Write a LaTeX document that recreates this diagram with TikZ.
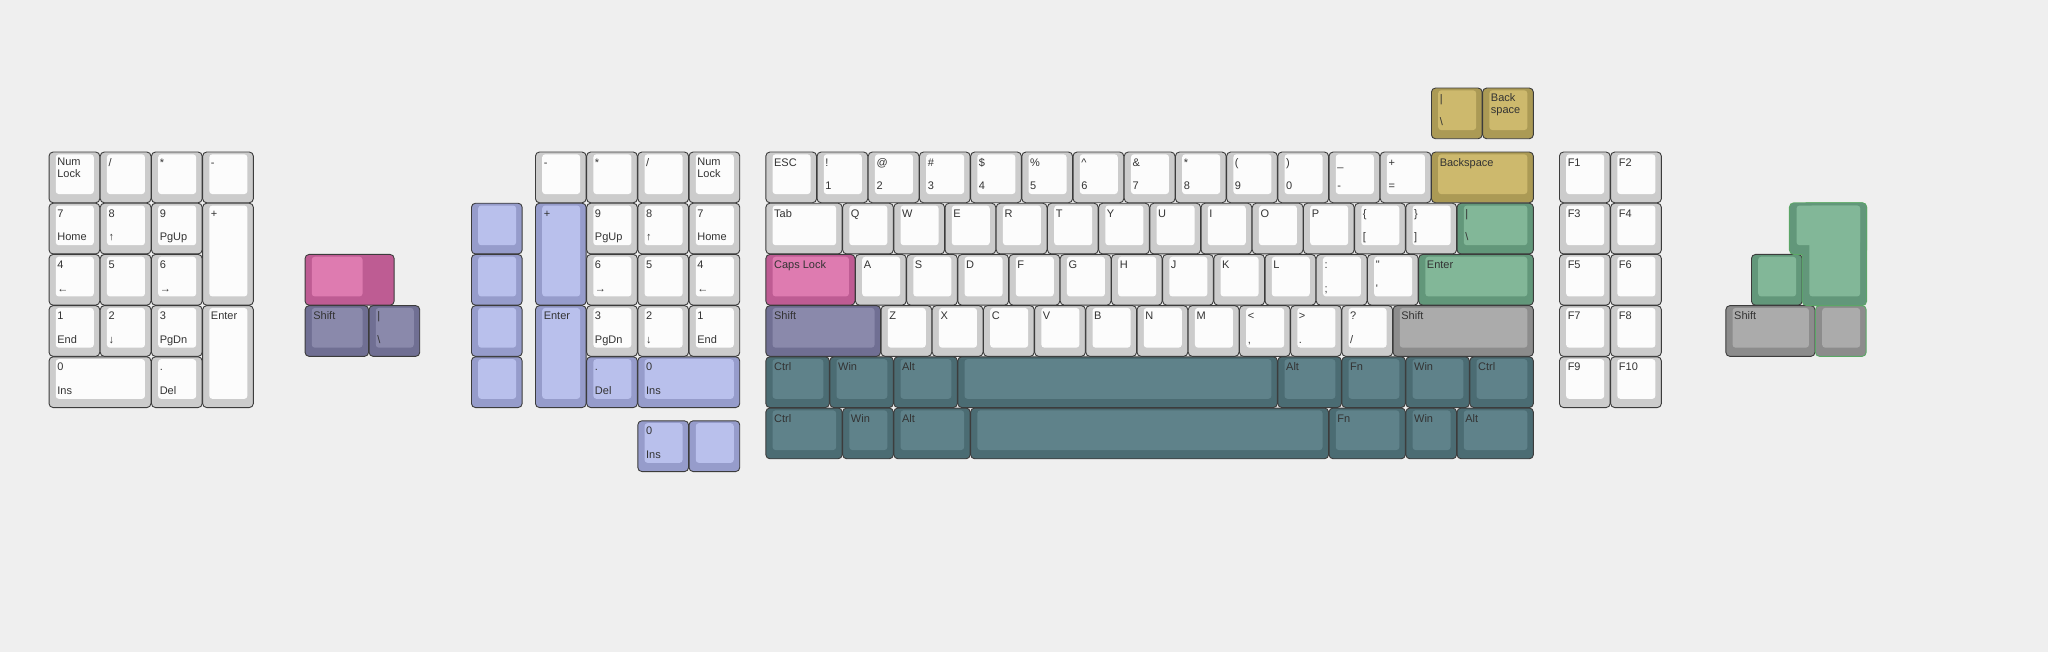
\documentclass[tikz,border=0pt]{standalone}
\usepackage{fontspec}
\setmainfont{Liberation Sans}[Ligatures=TeXOff]
\definecolor{bg}{HTML}{EFEFEF}
\definecolor{wside}{HTML}{CCCCCC}\definecolor{wtop}{HTML}{FCFCFC}
\definecolor{bside}{HTML}{969CCB}\definecolor{btop}{HTML}{B9C0EC}
\definecolor{pside}{HTML}{BE5C93}\definecolor{ptop}{HTML}{DE7BB0}
\definecolor{vside}{HTML}{706F93}\definecolor{vtop}{HTML}{8A89AB}
\definecolor{yside}{HTML}{AB9A55}\definecolor{ytop}{HTML}{CDB96D}
\definecolor{gside}{HTML}{62977A}\definecolor{gtop}{HTML}{82B798}
\definecolor{tside}{HTML}{4B6C73}\definecolor{ttop}{HTML}{5F828A}
\definecolor{aside}{HTML}{8C8C8C}\definecolor{atop}{HTML}{ABABAB}
\definecolor{edge}{HTML}{3C3C3C}
\definecolor{gedge}{HTML}{5AA865}
\definecolor{legend}{HTML}{333333}
\tikzset{
  keyside/.style={rounded corners=4pt, line width=0.9pt},
  keytop/.style={rounded corners=3pt},
  lg/.style={anchor=base west, inner sep=0pt, outer sep=0pt, text=legend, font=\fontsize{11}{13}\selectfont},
}
% #1 edge, #2 x, #3 y, #4 w, #5 h, #6 colour, #7 top legend, #8 bottom legend
\newcommand\kcap[8][edge]{%
  \pgfmathsetmacro\kl{49.05+51.2*(#2)}%
  \pgfmathsetmacro\kt{88.05+51.2*(#3)}%
  \pgfmathsetmacro\kr{48.55+51.2*((#2)+(#4))}%
  \pgfmathsetmacro\kb{87.55+51.2*((#3)+(#5))}%
  \draw[keyside, fill=#6side, draw=#1] (\kl,\kt) rectangle (\kr,\kb);
  \fill[keytop, fill=#6top] (\kl+6.7,\kt+2.3) rectangle (\kr-6,\kb-8.7);
  \node[lg] at (\kl+8.3,\kt+14) {#7};
  \node[lg] at (\kl+8.3,\kt+37.7) {#8};
}
\newcommand\twoline[2]{%
  \node[lg] at (\kl+8.3,\kt+13.5) {#1};
  \node[lg] at (\kl+8.3,\kt+25) {#2};
}
\begin{document}
\begin{tikzpicture}[x=1pt,y=-1pt]
\useasboundingbox (0,0) rectangle (2048,652);
\fill[bg] (0,0) rectangle (2048,652);

% ---------- gold keys on top
\kcap{27}{0}{1}{1}{y}{|}{\textbackslash}
\kcap{28}{0}{1}{1}{y}{}{}\twoline{Back}{space}

% ---------- left numpad
\kcap{0}{1.25}{1}{1}{w}{}{}\twoline{Num}{Lock}
\kcap{1}{1.25}{1}{1}{w}{/}{}
\kcap{2}{1.25}{1}{1}{w}{*}{}
\kcap{3}{1.25}{1}{1}{w}{-}{}
\kcap{0}{2.25}{1}{1}{w}{7}{Home}
\kcap{1}{2.25}{1}{1}{w}{8}{↑}
\kcap{2}{2.25}{1}{1}{w}{9}{PgUp}
\kcap{3}{2.25}{1}{2}{w}{+}{}
\kcap{0}{3.25}{1}{1}{w}{4}{←}
\kcap{1}{3.25}{1}{1}{w}{5}{}
\kcap{2}{3.25}{1}{1}{w}{6}{→}
\kcap{0}{4.25}{1}{1}{w}{1}{End}
\kcap{1}{4.25}{1}{1}{w}{2}{↓}
\kcap{2}{4.25}{1}{1}{w}{3}{PgDn}
\kcap{3}{4.25}{1}{2}{w}{Enter}{}
\kcap{0}{5.25}{2}{1}{w}{0}{Ins}
\kcap{2}{5.25}{1}{1}{w}{.}{Del}

% ---------- stepped pink key
\pgfmathsetmacro\kl{49.05+51.2*5}
\pgfmathsetmacro\kt{88.05+51.2*3.25}
\pgfmathsetmacro\kr{48.55+51.2*6.75}
\pgfmathsetmacro\kri{48.55+51.2*6.25}
\pgfmathsetmacro\kb{87.55+51.2*4.25}
\draw[keyside, fill=pside, draw=edge] (\kl,\kt) rectangle (\kr,\kb);
\fill[keytop, fill=ptop] (\kl+6.7,\kt+2.3) rectangle (\kri-6,\kb-8.7);
\kcap{5}{4.25}{1.25}{1}{v}{Shift}{}
\kcap{6.25}{4.25}{1}{1}{v}{|}{\textbackslash}

% ---------- blue column
\foreach \r in {2.25,3.25,4.25,5.25} {\kcap{8.25}{\r}{1}{1}{b}{}{}}

% ---------- right numpad
\kcap{9.5}{1.25}{1}{1}{w}{-}{}
\kcap{10.5}{1.25}{1}{1}{w}{*}{}
\kcap{11.5}{1.25}{1}{1}{w}{/}{}
\kcap{12.5}{1.25}{1}{1}{w}{}{}\twoline{Num}{Lock}
\kcap{9.5}{2.25}{1}{2}{b}{+}{}
\kcap{10.5}{2.25}{1}{1}{w}{9}{PgUp}
\kcap{11.5}{2.25}{1}{1}{w}{8}{↑}
\kcap{12.5}{2.25}{1}{1}{w}{7}{Home}
\kcap{10.5}{3.25}{1}{1}{w}{6}{→}
\kcap{11.5}{3.25}{1}{1}{w}{5}{}
\kcap{12.5}{3.25}{1}{1}{w}{4}{←}
\kcap{9.5}{4.25}{1}{2}{b}{Enter}{}
\kcap{10.5}{4.25}{1}{1}{w}{3}{PgDn}
\kcap{11.5}{4.25}{1}{1}{w}{2}{↓}
\kcap{12.5}{4.25}{1}{1}{w}{1}{End}
\kcap{10.5}{5.25}{1}{1}{b}{.}{Del}
\kcap{11.5}{5.25}{2}{1}{b}{0}{Ins}
\kcap{11.5}{6.5}{1}{1}{b}{0}{Ins}
\kcap{12.5}{6.5}{1}{1}{b}{}{}

% ---------- main block, number row
\kcap{14}{1.25}{1}{1}{w}{ESC}{}
\kcap{15}{1.25}{1}{1}{w}{!}{1}
\kcap{16}{1.25}{1}{1}{w}{@}{2}
\kcap{17}{1.25}{1}{1}{w}{\#}{3}
\kcap{18}{1.25}{1}{1}{w}{\$}{4}
\kcap{19}{1.25}{1}{1}{w}{\%}{5}
\kcap{20}{1.25}{1}{1}{w}{\^{}}{6}
\kcap{21}{1.25}{1}{1}{w}{\&}{7}
\kcap{22}{1.25}{1}{1}{w}{*}{8}
\kcap{23}{1.25}{1}{1}{w}{(}{9}
\kcap{24}{1.25}{1}{1}{w}{)}{0}
\kcap{25}{1.25}{1}{1}{w}{\_}{-}
\kcap{26}{1.25}{1}{1}{w}{+}{=}
\kcap{27}{1.25}{2}{1}{y}{Backspace}{}

% ---------- QWERTY row
\kcap{14}{2.25}{1.5}{1}{w}{Tab}{}
\foreach \c [count=\i from 0] in {Q,W,E,R,T,Y,U,I,O,P} {\kcap{15.5+\i}{2.25}{1}{1}{w}{\c}{}}
\kcap{25.5}{2.25}{1}{1}{w}{\{}{[}
\kcap{26.5}{2.25}{1}{1}{w}{\}}{]}
\kcap{27.5}{2.25}{1.5}{1}{g}{|}{\textbackslash}

% ---------- home row
\kcap{14}{3.25}{1.75}{1}{p}{Caps Lock}{}
\foreach \c [count=\i from 0] in {A,S,D,F,G,H,J,K,L} {\kcap{15.75+\i}{3.25}{1}{1}{w}{\c}{}}
\kcap{24.75}{3.25}{1}{1}{w}{:}{;}
\kcap{25.75}{3.25}{1}{1}{w}{"}{'}
\kcap{26.75}{3.25}{2.25}{1}{g}{Enter}{}

% ---------- bottom letter row
\kcap{14}{4.25}{2.25}{1}{v}{Shift}{}
\foreach \c [count=\i from 0] in {Z,X,C,V,B,N,M} {\kcap{16.25+\i}{4.25}{1}{1}{w}{\c}{}}
\kcap{23.25}{4.25}{1}{1}{w}{<}{,}
\kcap{24.25}{4.25}{1}{1}{w}{>}{.}
\kcap{25.25}{4.25}{1}{1}{w}{?}{/}
\kcap{26.25}{4.25}{2.75}{1}{a}{Shift}{}

% ---------- modifier rows
\kcap{14}{5.25}{1.25}{1}{t}{Ctrl}{}
\kcap{15.25}{5.25}{1.25}{1}{t}{Win}{}
\kcap{16.5}{5.25}{1.25}{1}{t}{Alt}{}
\kcap{17.75}{5.25}{6.25}{1}{t}{}{}
\kcap{24}{5.25}{1.25}{1}{t}{Alt}{}
\kcap{25.25}{5.25}{1.25}{1}{t}{Fn}{}
\kcap{26.5}{5.25}{1.25}{1}{t}{Win}{}
\kcap{27.75}{5.25}{1.25}{1}{t}{Ctrl}{}
\kcap{14}{6.25}{1.5}{1}{t}{Ctrl}{}
\kcap{15.5}{6.25}{1}{1}{t}{Win}{}
\kcap{16.5}{6.25}{1.5}{1}{t}{Alt}{}
\kcap{18}{6.25}{7}{1}{t}{}{}
\kcap{25}{6.25}{1.5}{1}{t}{Fn}{}
\kcap{26.5}{6.25}{1}{1}{t}{Win}{}
\kcap{27.5}{6.25}{1.5}{1}{t}{Alt}{}

% ---------- F keys
\kcap{29.5}{1.25}{1}{1}{w}{F1}{}
\kcap{30.5}{1.25}{1}{1}{w}{F2}{}
\kcap{29.5}{2.25}{1}{1}{w}{F3}{}
\kcap{30.5}{2.25}{1}{1}{w}{F4}{}
\kcap{29.5}{3.25}{1}{1}{w}{F5}{}
\kcap{30.5}{3.25}{1}{1}{w}{F6}{}
\kcap{29.5}{4.25}{1}{1}{w}{F7}{}
\kcap{30.5}{4.25}{1}{1}{w}{F8}{}
\kcap{29.5}{5.25}{1}{1}{w}{F9}{}
\kcap{30.5}{5.25}{1}{1}{w}{F10}{}

% ---------- right cluster
\kcap{33.25}{3.25}{1}{1}{g}{}{}
\kcap{32.75}{4.25}{1.75}{1}{a}{Shift}{}
\kcap[gedge]{34.5}{4.25}{1}{1}{a}{}{}
% ISO enter
\pgfmathsetmacro\ia{49.05+51.2*34}
\pgfmathsetmacro\ib{49.05+51.2*34.25}
\pgfmathsetmacro\it{88.05+51.2*2.25}
\pgfmathsetmacro\ir{48.55+51.2*35.5}
\pgfmathsetmacro\iu{87.55+51.2*3.25}
\pgfmathsetmacro\il{87.55+51.2*4.25}
\draw[keyside, line width=1.8pt, fill=gside, draw=gedge] (\ia,\it) rectangle (\ir,\iu);
\draw[keyside, line width=1.8pt, fill=gside, draw=gedge] (\ib,\it) rectangle (\ir,\il);
\fill[keyside, fill=gside] (\ia,\it) rectangle (\ir,\iu);
\fill[keyside, fill=gside] (\ib,\it) rectangle (\ir,\il);
\fill[keytop, fill=gtop] (\ia+6.7,\it+2.3) rectangle (\ir-6,\iu-8.7);
\fill[keytop, fill=gtop] (\ib+6.7,\it+2.3) rectangle (\ir-6,\il-8.7);
\end{tikzpicture}
\end{document}
